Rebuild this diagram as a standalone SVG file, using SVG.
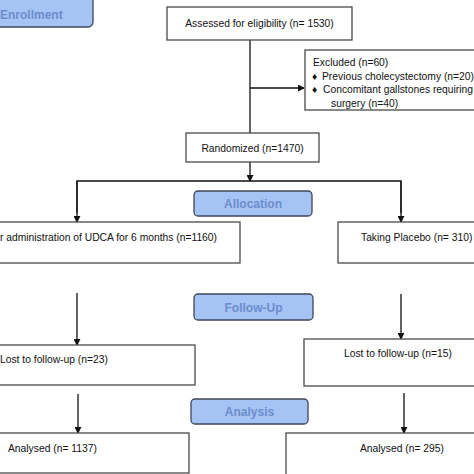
<svg xmlns="http://www.w3.org/2000/svg" width="474" height="474" viewBox="0 0 474 474">
<style>
.box{fill:#fff;stroke:#4a4a4a;stroke-width:1.3}
.stage{fill:#a6c3f5;stroke:#3e4758;stroke-width:1.3}
.t{font-family:"Liberation Sans",Arial,sans-serif;font-size:10.3px;fill:#111}
.st{font-family:"Liberation Sans",Arial,sans-serif;font-size:12px;font-weight:bold;fill:#6b8dcc}
.ln{stroke:#111;stroke-width:1.3;fill:none}
</style>
<defs>
<marker id="ah" viewBox="0 0 8 8" refX="7" refY="4" markerWidth="7" markerHeight="7" markerUnits="userSpaceOnUse" orient="auto">
<path d="M0,0 L8,4 L0,8 Z" fill="#111"/>
</marker>
</defs>
<rect width="474" height="474" fill="#fff"/>
<g id="connectors">
<line class="ln" x1="250" y1="40" x2="250" y2="133"/>
<line class="ln" x1="250" y1="88" x2="304" y2="88" marker-end="url(#ah)"/>
<line class="ln" x1="250" y1="162" x2="250" y2="181" marker-end="url(#ah)"/>
<polyline class="ln" points="77,213 77,181 401,181 401,213" />
<line class="ln" x1="77" y1="181" x2="77" y2="222" marker-end="url(#ah)"/>
<line class="ln" x1="401" y1="181" x2="401" y2="222" marker-end="url(#ah)"/>
<line class="ln" x1="77" y1="293" x2="77" y2="345" marker-end="url(#ah)"/>
<line class="ln" x1="401" y1="294" x2="401" y2="339" marker-end="url(#ah)"/>
<line class="ln" x1="78" y1="394" x2="78" y2="433" marker-end="url(#ah)"/>
<line class="ln" x1="404" y1="393" x2="404" y2="433" marker-end="url(#ah)"/>
</g>
<g id="enrollment">
<rect class="stage" x="-10" y="-6" width="103" height="33" rx="5"/>
<text class="st" x="0" y="19">Enrollment</text>
</g>
<g id="assessed">
<rect class="box" x="167" y="7" width="185" height="33"/>
<text class="t" x="259.5" y="27" text-anchor="middle">Assessed for eligibility (n= 1530)</text>
</g>
<g id="excluded">
<rect class="box" x="305" y="50" width="180" height="60"/>
<text class="t" x="313" y="66">Excluded (n=60)</text>
<text class="t" x="312" y="80" font-size="6">♦</text>
<text class="t" x="322" y="80" font-size="9.5">Previous cholecystectomy (n=20)</text>
<text class="t" x="312" y="93" font-size="6">♦</text>
<text class="t" x="323" y="93" font-size="9.8">Concomitant gallstones requiring</text>
<text class="t" x="331" y="107">surgery (n=40)</text>
</g>
<g id="randomized">
<rect class="box" x="186" y="133" width="133" height="29"/>
<text class="t" x="252.5" y="151.5" text-anchor="middle">Randomized (n=1470)</text>
</g>
<g id="allocation">
<rect class="stage" x="194" y="191" width="118" height="25" rx="4"/>
<text class="st" x="253" y="208" text-anchor="middle">Allocation</text>
</g>
<g id="udca">
<rect class="box" x="-5" y="222" width="245" height="41"/>
<text class="t" x="0" y="241">r administration of UDCA for 6 months (n=1160)</text>
</g>
<g id="placebo">
<rect class="box" x="338" y="222" width="150" height="41"/>
<text class="t" x="361" y="241">Taking Placebo (n= 310)</text>
</g>
<g id="followup">
<rect class="stage" x="194" y="294" width="119" height="26" rx="4"/>
<text class="st" x="253.5" y="311.5" text-anchor="middle">Follow-Up</text>
</g>
<g id="lost-left">
<rect class="box" x="-5" y="345" width="200" height="40"/>
<text class="t" x="0" y="363">Lost to follow-up  (n=23)</text>
</g>
<g id="lost-right">
<rect class="box" x="304" y="339" width="180" height="47"/>
<text class="t" x="344" y="357">Lost to follow-up (n=15)</text>
</g>
<g id="analysis">
<rect class="stage" x="191" y="399" width="117" height="25" rx="4"/>
<text class="st" x="249.5" y="416" text-anchor="middle">Analysis</text>
</g>
<g id="analysed-left">
<rect class="box" x="-5" y="433" width="194" height="40"/>
<text class="t" x="8" y="452">Analysed  (n= 1137)</text>
</g>
<g id="analysed-right">
<rect class="box" x="286" y="433" width="200" height="50"/>
<text class="t" x="360" y="452">Analysed  (n= 295)</text>
</g>
</svg>
